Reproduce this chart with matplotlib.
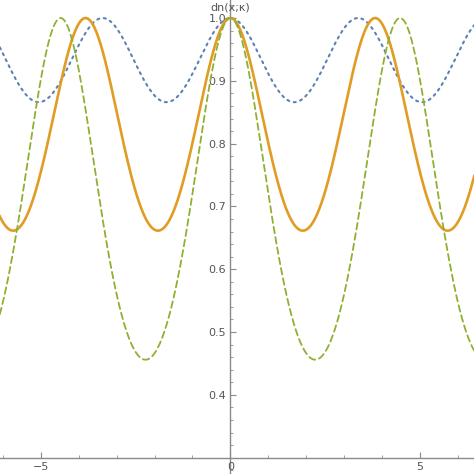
import numpy as np
import matplotlib
matplotlib.use("Agg")
import matplotlib.pyplot as plt
from matplotlib.ticker import MultipleLocator, FixedLocator

# modulus kappa of each curve, read from the minima sqrt(1 - kappa^2)
kappas = [0.5, 0.75, 0.89]
colors = ["#5E81B5", "#E19C24", "#8FB032"]
styles = [(0, (1, 2.2)), "-", (0, (3.6, 2.2))]
widths = [1.5, 1.9, 1.3]

x_ticks = [-5, 0, 5]
x_labels = ["\u22125", "0", "5"]
y_ticks = [0.4, 0.5, 0.6, 0.7, 0.8, 0.9, 1.0]
y_label = "dn(x;κ)"


def jacobi_dn(u, m):
    # descending Landen / AGM
    a = [1.0]
    c = [np.sqrt(m)]
    b = np.sqrt(1.0 - m)
    while abs(c[-1]) > 1e-14 and len(a) < 30:
        an = (a[-1] + b) / 2
        cn = (a[-1] - b) / 2
        b = np.sqrt(a[-1] * b)
        a.append(an)
        c.append(cn)
    n = len(a) - 1
    phi = (2.0 ** n) * a[n] * u
    phis = [phi]
    for i in range(n, 0, -1):
        phi = (phi + np.arcsin(c[i] / a[i] * np.sin(phi))) / 2
        phis.append(phi)
    phi0 = phis[-1]
    phi1 = phis[-2] if len(phis) > 1 else phi0
    return np.cos(phi0) / np.cos(phi1 - phi0)


fig = plt.figure(figsize=(4.74, 4.74), dpi=100)
ax = fig.add_axes([0, 0, 1, 1])

xs = np.linspace(-6.5, 6.5, 2000)
for k, col, ls, lw in zip(kappas, colors, styles, widths):
    ax.plot(xs, jacobi_dn(xs, k * k), color=col, linestyle=ls, linewidth=lw,
            dash_capstyle="round")

ax.set_xlim(-6.08, 6.43)
ax.set_ylim(0.274, 1.0287)

for s in ["top", "right"]:
    ax.spines[s].set_visible(False)
ax.spines["left"].set_position(("data", 0))
ax.spines["bottom"].set_position(("data", 0.3))
for s in ["left", "bottom"]:
    ax.spines[s].set_color("#8a8a8a")
    ax.spines[s].set_linewidth(1.0)
    ax.spines[s].set_zorder(0.5)

ax.xaxis.set_major_locator(FixedLocator(x_ticks))
ax.xaxis.set_minor_locator(FixedLocator([v for v in range(-6, 7) if v % 5 != 0]))
ax.yaxis.set_major_locator(FixedLocator(y_ticks))
ax.yaxis.set_minor_locator(MultipleLocator(0.02))
ax.set_yticklabels(["%.1f" % v for v in y_ticks])
ax.set_xticklabels(x_labels)

ax.tick_params(which="both", direction="in", color="#8a8a8a", labelcolor="#555555",
               labelsize=8)
ax.tick_params(which="major", length=4, width=0.8, pad=3)
ax.tick_params(which="minor", length=2.5, width=0.6)

ax.text(0, 1.0175, y_label, ha="center", va="center", fontsize=8, color="#555555")

fig.savefig("out.png", dpi=100)
